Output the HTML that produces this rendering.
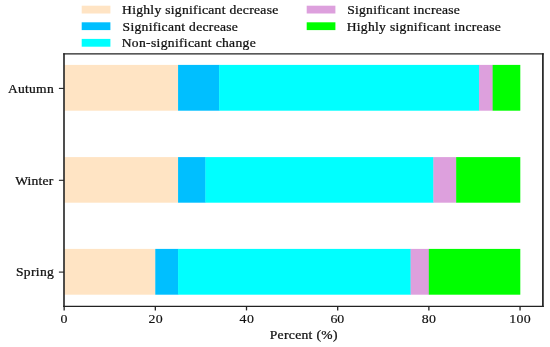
<!DOCTYPE html><html><head><meta charset="utf-8"><style>html,body{margin:0;padding:0;background:#fff}svg{display:block}text{font-family:"Liberation Serif",serif;font-size:11.8px;fill:#111;stroke:#111;stroke-width:0.25px}</style></head><body>
<svg width="550" height="347" viewBox="0 0 550 347">
<rect width="550" height="347" fill="#fff"/>
<rect x="64.10" y="64.90" width="114.28" height="45.80" fill="#FFE4C4"/>
<rect x="178.07" y="64.90" width="41.33" height="45.80" fill="#00BFFF"/>
<rect x="219.11" y="64.90" width="260.16" height="45.80" fill="#00FFFF"/>
<rect x="478.97" y="64.90" width="13.98" height="45.80" fill="#DDA0DD"/>
<rect x="492.65" y="64.90" width="27.65" height="45.80" fill="#00FF00"/>
<line x1="58.90" x2="64.00" y1="88.40" y2="88.40" stroke="#222" stroke-width="1.1"/>
<rect x="64.10" y="157.10" width="114.28" height="45.60" fill="#FFE4C4"/>
<rect x="178.07" y="157.10" width="27.65" height="45.60" fill="#00BFFF"/>
<rect x="205.43" y="157.10" width="228.25" height="45.60" fill="#00FFFF"/>
<rect x="433.38" y="157.10" width="23.10" height="45.60" fill="#DDA0DD"/>
<rect x="456.17" y="157.10" width="64.13" height="45.60" fill="#00FF00"/>
<line x1="58.90" x2="64.00" y1="180.30" y2="180.30" stroke="#222" stroke-width="1.1"/>
<rect x="64.10" y="248.90" width="91.48" height="45.80" fill="#FFE4C4"/>
<rect x="155.28" y="248.90" width="23.10" height="45.80" fill="#00BFFF"/>
<rect x="178.07" y="248.90" width="232.81" height="45.80" fill="#00FFFF"/>
<rect x="410.58" y="248.90" width="18.54" height="45.80" fill="#DDA0DD"/>
<rect x="428.82" y="248.90" width="91.48" height="45.80" fill="#00FF00"/>
<line x1="58.90" x2="64.00" y1="272.10" y2="272.10" stroke="#222" stroke-width="1.1"/>
<line x1="63.20" x2="543.75" y1="53.80" y2="53.80" stroke="#222" stroke-width="1.3"/>
<line x1="63.20" x2="543.75" y1="306.40" y2="306.40" stroke="#222" stroke-width="1.3"/>
<line x1="64.00" x2="64.00" y1="53.15" y2="307.05" stroke="#222" stroke-width="1.6"/>
<line x1="542.90" x2="542.90" y1="53.15" y2="307.05" stroke="#222" stroke-width="1.7"/>
<line x1="64.15" x2="64.15" y1="306.40" y2="310.40" stroke="#222" stroke-width="1.3"/>
<line x1="155.33" x2="155.33" y1="306.40" y2="310.40" stroke="#222" stroke-width="1.3"/>
<line x1="246.51" x2="246.51" y1="306.40" y2="310.40" stroke="#222" stroke-width="1.3"/>
<line x1="337.69" x2="337.69" y1="306.40" y2="310.40" stroke="#222" stroke-width="1.3"/>
<line x1="428.87" x2="428.87" y1="306.40" y2="310.40" stroke="#222" stroke-width="1.3"/>
<line x1="520.05" x2="520.05" y1="306.40" y2="310.40" stroke="#222" stroke-width="1.3"/>
<rect x="81.70" y="5.70" width="28.7" height="7.8" fill="#FFE4C4"/>
<rect x="81.70" y="22.30" width="28.7" height="7.8" fill="#00BFFF"/>
<rect x="81.70" y="38.90" width="28.7" height="7.8" fill="#00FFFF"/>
<rect x="306.70" y="5.70" width="28.7" height="7.8" fill="#DDA0DD"/>
<rect x="306.70" y="22.30" width="28.7" height="7.8" fill="#00FF00"/>
<text id="l1" transform="translate(122.04 13.50) scale(1.15 1)" textLength="135.83" lengthAdjust="spacing">Highly significant decrease</text>
<text id="l2" transform="translate(122.55 30.50) scale(1.15 1)" textLength="100.30" lengthAdjust="spacing">Significant decrease</text>
<text id="l3" transform="translate(121.67 46.70) scale(1.15 1)" textLength="116.59" lengthAdjust="spacing">Non-significant change</text>
<text id="l4" transform="translate(347.17 13.50) scale(1.15 1)" textLength="98.03" lengthAdjust="spacing">Significant increase</text>
<text id="l5" transform="translate(346.67 30.50) scale(1.15 1)" textLength="134.10" lengthAdjust="spacing">Highly significant increase</text>
<text id="autumn" transform="translate(7.93 92.90) scale(1.15 1)" textLength="39.82" lengthAdjust="spacing">Autumn</text>
<text id="winter" transform="translate(15.14 184.80) scale(1.15 1)" textLength="33.15" lengthAdjust="spacing">Winter</text>
<text id="spring" transform="translate(15.98 276.40) scale(1.15 1)" textLength="32.89" lengthAdjust="spacing">Spring</text>
<text id="t0" transform="translate(60.42 322.90) scale(1.14 1)" style="font-size:12.2px;stroke-width:0.15px">0</text>
<text id="t20" transform="translate(148.41 322.90) scale(1.14 1)" textLength="12.59" lengthAdjust="spacing" style="font-size:12.2px;stroke-width:0.15px">20</text>
<text id="t40" transform="translate(239.56 322.90) scale(1.14 1)" textLength="12.57" lengthAdjust="spacing" style="font-size:12.2px;stroke-width:0.15px">40</text>
<text id="t60" transform="translate(330.45 322.90) scale(1.14 1)" textLength="12.10" lengthAdjust="spacing" style="font-size:12.2px;stroke-width:0.15px">60</text>
<text id="t80" transform="translate(421.82 322.90) scale(1.14 1)" textLength="12.41" lengthAdjust="spacing" style="font-size:12.2px;stroke-width:0.15px">80</text>
<text id="t100" transform="translate(509.25 322.90) scale(1.14 1)" textLength="18.83" lengthAdjust="spacing" style="font-size:12.2px;stroke-width:0.15px">100</text>
<text id="xl" transform="translate(269.74 338.70) scale(1.15 1)" textLength="58.87" lengthAdjust="spacing">Percent (%)</text>
</svg></body></html>
